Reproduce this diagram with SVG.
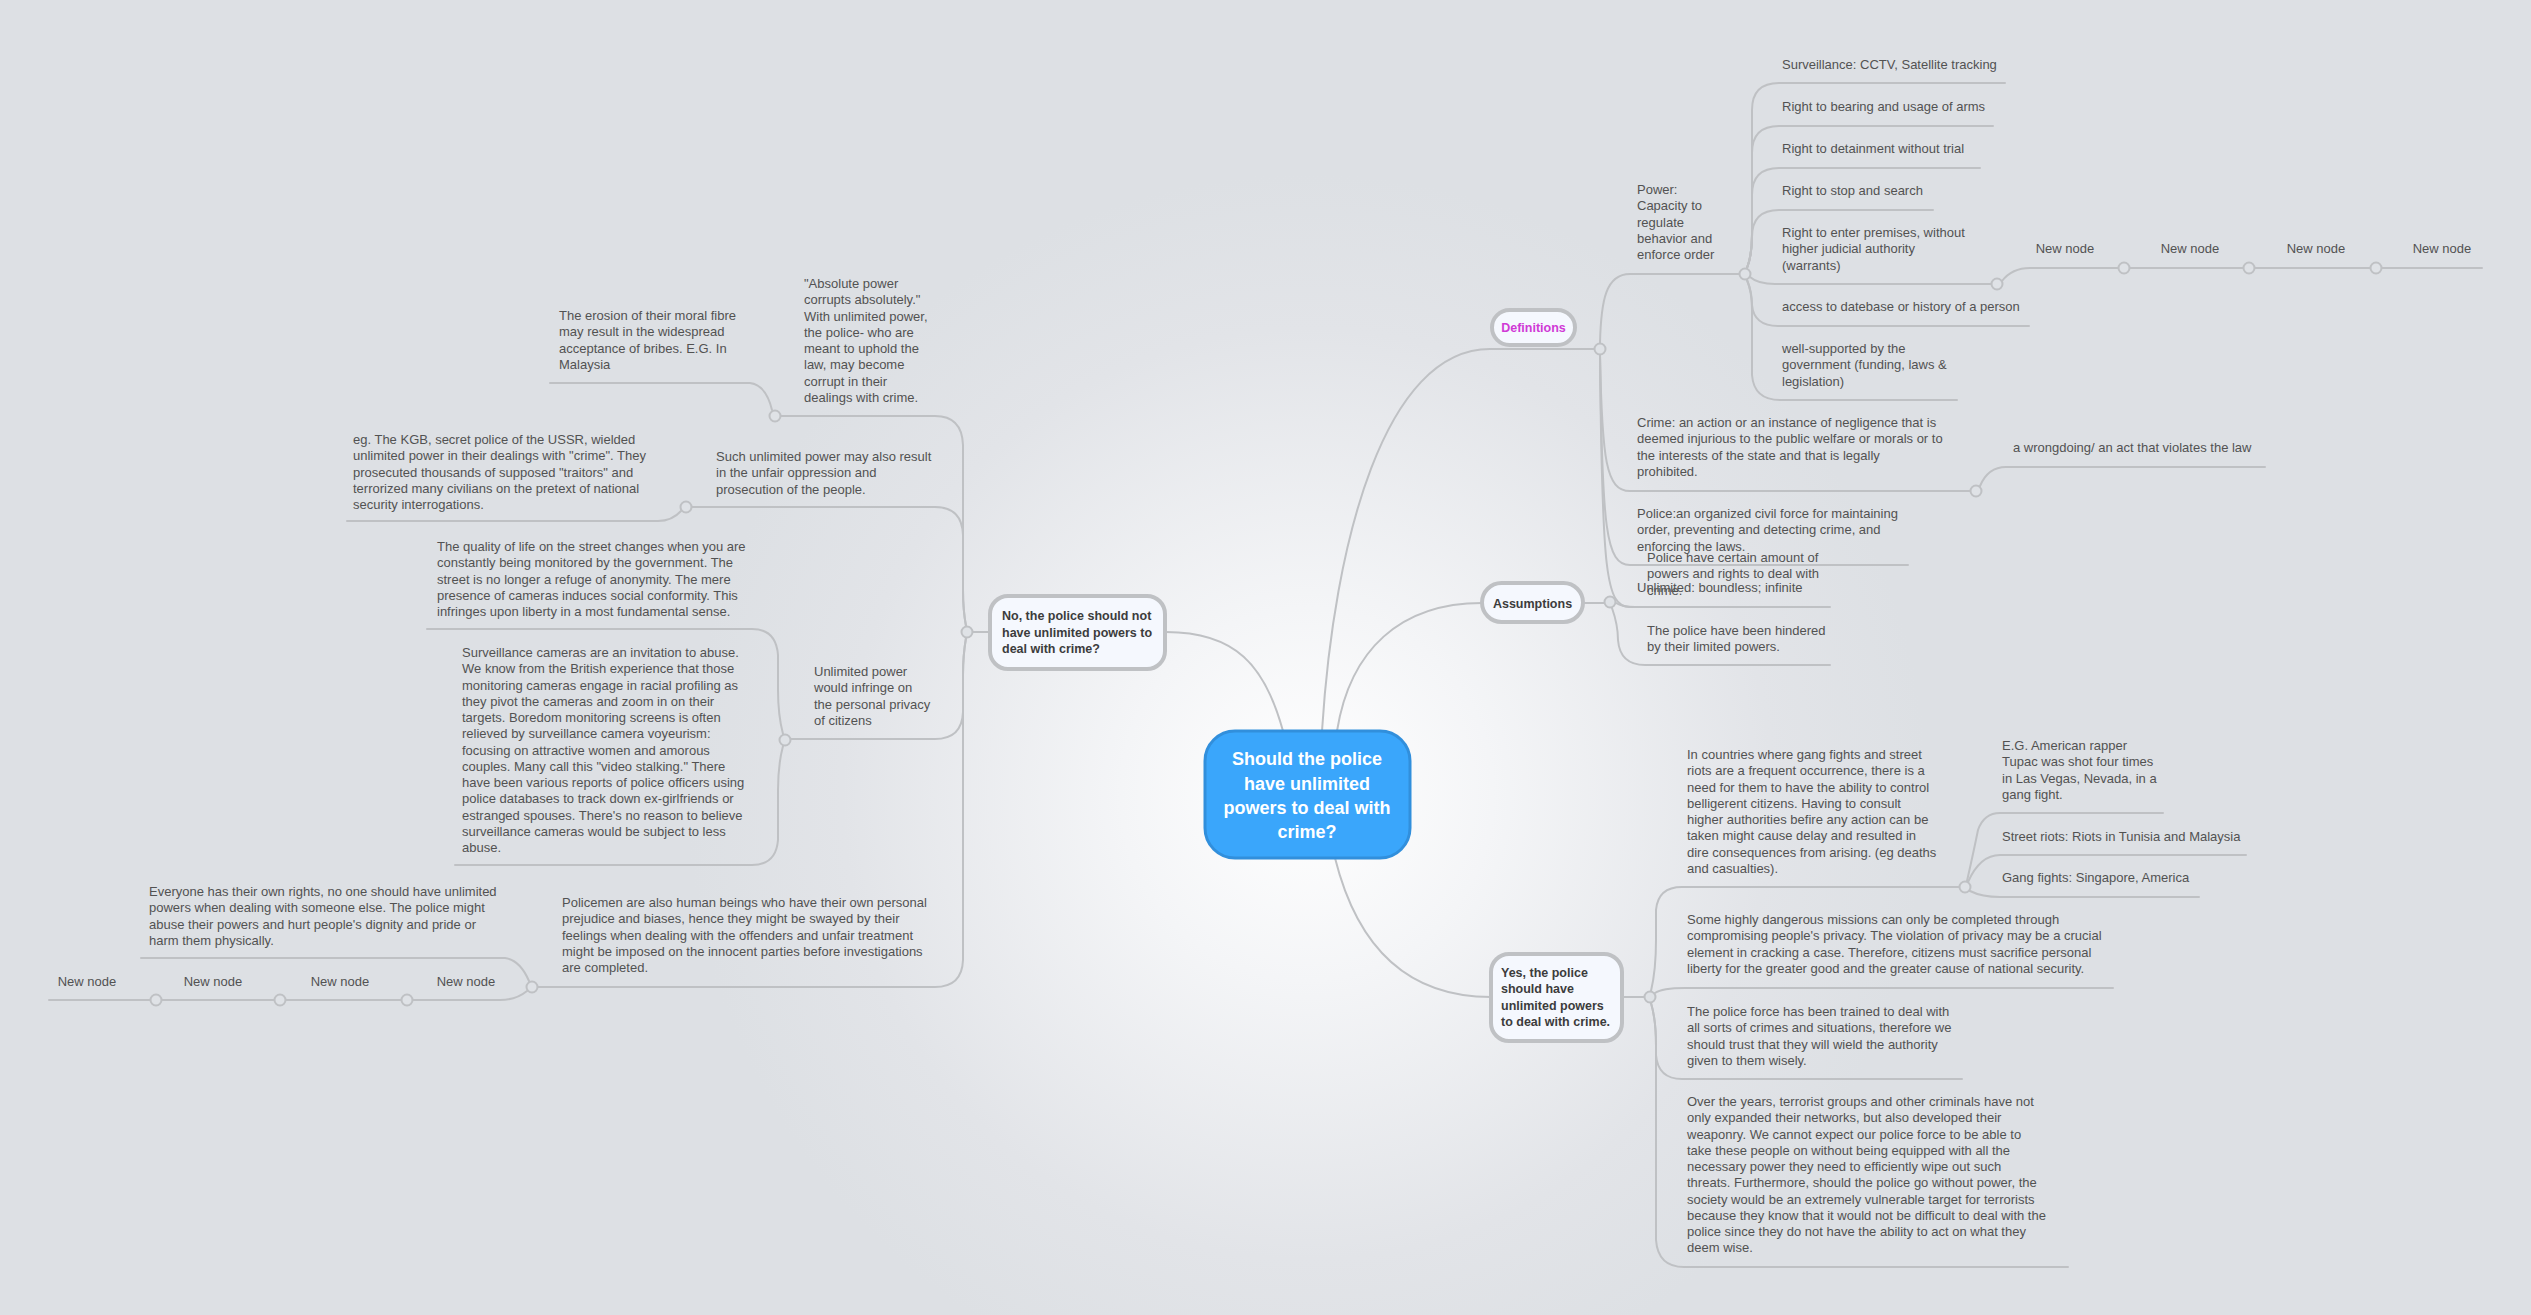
<svg xmlns="http://www.w3.org/2000/svg" width="2531" height="1315" viewBox="0 0 2531 1315">
<defs>
<radialGradient id="bg" gradientUnits="userSpaceOnUse" cx="1307" cy="794" r="620">
<stop offset="0" stop-color="#ffffff"/>
<stop offset="0.3" stop-color="#f4f5f7"/>
<stop offset="0.75" stop-color="#e2e4e8"/>
<stop offset="1" stop-color="#dde0e4"/>
</radialGradient>
<style>
.c{fill:none;stroke:#bfc1c4;stroke-width:2;stroke-linecap:round}
.dot{fill:#dfe2e6;stroke:#bfc1c4;stroke-width:2}
.box{fill:#f5f8fe;stroke:#bfc1c4;stroke-width:4}
.t{font-family:"Liberation Sans",Arial,sans-serif;font-size:13px;fill:#525252}
.b{font-family:"Liberation Sans",Arial,sans-serif;font-size:12.5px;font-weight:bold;fill:#3c3c3c}
.m{font-family:"Liberation Sans",Arial,sans-serif;font-size:18px;font-weight:bold;fill:#ffffff}
</style>
</defs>
<rect width="2531" height="1315" fill="url(#bg)"/>

<g id="connectors">
<path class="c" d="M1322,731 C1334,540 1385,349 1490,349 H1594"/>
<path class="c" d="M1337,731 C1350,650 1400,603 1482,603"/>
<path class="c" d="M1283,731 C1265,665 1235,632 1166,632"/>
<path class="c" d="M1335,858 C1358,950 1410,997 1491,997"/>
<path class="c" d="M1583,603 H1604"/>
<path class="c" d="M990,632 H973"/>
<path class="c" d="M1622,997 H1644"/>

<path class="c" d="M1600,343 C1601,300 1606,274 1630,274 H1739"/>
<path class="c" d="M1600,355 C1602,460 1606,491 1630,491 H1970"/>
<path class="c" d="M1600,355 C1602,530 1606,565 1630,565 H1908"/>
<path class="c" d="M1600,355 C1602,575 1606,607 1630,607 H1830"/>

<path class="c" d="M1747,268 Q1752,255 1752,235 V110 Q1752,83 1779,83 H2005"/>
<path class="c" d="M1747,268 Q1752,255 1752,235 V153 Q1752,126 1779,126 H1993"/>
<path class="c" d="M1747,268 Q1752,255 1752,235 V195 Q1752,168 1779,168 H1980"/>
<path class="c" d="M1747,268 Q1752,255 1752,237 Q1752,210 1779,210 H1933"/>
<path class="c" d="M1750,277 Q1758,284 1775,284 H1991"/>
<path class="c" d="M1747,280 Q1752,292 1752,305 Q1754,326 1778,326 H2029"/>
<path class="c" d="M1747,280 Q1752,292 1752,310 V375 Q1754,400 1780,400 H1957"/>

<path class="c" d="M2002,281 Q2012,268 2030,268 H2118"/>
<path class="c" d="M2130,268 H2243"/>
<path class="c" d="M2255,268 H2370"/>
<path class="c" d="M2382,268 H2482"/>

<path class="c" d="M1980,486 Q1988,467 2006,467 H2265"/>

<path class="c" d="M1616,603 Q1622,607 1635,607 H1815"/>
<path class="c" d="M1612,608 Q1618,625 1618,640 Q1620,665 1645,665 H1830"/>

<path class="c" d="M1651,991 Q1656,970 1656,940 V910 Q1658,887 1682,887 H1959"/>
<path class="c" d="M1655,993 Q1662,988 1685,988 H2113"/>
<path class="c" d="M1651,1003 Q1656,1020 1656,1045 V1055 Q1658,1079 1682,1079 H1962"/>
<path class="c" d="M1651,1003 Q1656,1020 1656,1045 V1240 Q1658,1267 1684,1267 H2068"/>

<path class="c" d="M1967,881 Q1974,850 1978,830 Q1984,813 2000,813 H2163"/>
<path class="c" d="M1968,882 Q1980,855 2000,855 H2246"/>
<path class="c" d="M1970,891 Q1982,897 2000,897 H2199"/>

<path class="c" d="M966,626 Q963,610 963,590 V445 Q962,416 935,416 H781"/>
<path class="c" d="M966,626 Q963,610 963,590 V535 Q962,507 935,507 H692"/>
<path class="c" d="M966,638 Q963,655 963,675 V712 Q962,739 935,739 H791"/>
<path class="c" d="M966,638 Q963,655 963,675 V960 Q962,987 935,987 H538"/>

<path class="c" d="M772,410 Q766,385 750,383 H550"/>
<path class="c" d="M681,511 Q672,521 658,521 H347"/>
<path class="c" d="M783,734 Q778,715 778,690 V655 Q776,629 752,629 H427"/>
<path class="c" d="M783,746 Q778,765 778,790 V840 Q776,865 752,865 H455"/>

<path class="c" d="M529,981 Q520,960 505,958 H141"/>
<path class="c" d="M527,991 Q516,1000 500,1000 H413"/>
<path class="c" d="M401,1000 H286"/>
<path class="c" d="M274,1000 H162"/>
<path class="c" d="M150,1000 H49"/>

<circle class="dot" cx="1600" cy="349" r="5.5"/>
<circle class="dot" cx="1610" cy="602" r="5.5"/>
<circle class="dot" cx="967" cy="632" r="5.5"/>
<circle class="dot" cx="1650" cy="997" r="5.5"/>
<circle class="dot" cx="1745" cy="274" r="5.5"/>
<circle class="dot" cx="1997" cy="284" r="5.5"/>
<circle class="dot" cx="2124" cy="268" r="5.5"/>
<circle class="dot" cx="2249" cy="268" r="5.5"/>
<circle class="dot" cx="2376" cy="268" r="5.5"/>
<circle class="dot" cx="1976" cy="491" r="5.5"/>
<circle class="dot" cx="1965" cy="887" r="5.5"/>
<circle class="dot" cx="775" cy="416" r="5.5"/>
<circle class="dot" cx="686" cy="507" r="5.5"/>
<circle class="dot" cx="785" cy="740" r="5.5"/>
<circle class="dot" cx="532" cy="987" r="5.5"/>
<circle class="dot" cx="407" cy="1000" r="5.5"/>
<circle class="dot" cx="280" cy="1000" r="5.5"/>
<circle class="dot" cx="156" cy="1000" r="5.5"/>
</g>

<g id="central">
<rect x="1205" y="731" width="205" height="127" rx="30" fill="#3aa6fb" stroke="#318fdc" stroke-width="3"/>
<text class="m" text-anchor="middle"><tspan x="1307" y="765">Should the police</tspan><tspan x="1307" y="790">have unlimited</tspan><tspan x="1307" y="814">powers to deal with</tspan><tspan x="1307" y="838">crime?</tspan></text>
</g>

<g id="definitions">
<rect class="box" x="1492" y="310" width="83" height="35" rx="17.5"/>
<text class="b" x="1533.5" y="332" text-anchor="middle" style="fill:#d03ad6">Definitions</text>
</g>
<g id="assumptions">
<rect class="box" x="1482" y="583" width="101" height="39" rx="19.5"/>
<text class="b" x="1532.5" y="607.5" text-anchor="middle">Assumptions</text>
</g>
<g id="no">
<rect class="box" x="990" y="596" width="175" height="73" rx="18"/>
<text class="b"><tspan x="1002" y="620">No, the police should not</tspan><tspan x="1002" y="637">have unlimited powers to</tspan><tspan x="1002" y="653">deal with crime?</tspan></text>
</g>
<g id="yes">
<rect class="box" x="1491" y="954" width="131" height="87" rx="18"/>
<text class="b"><tspan x="1501" y="977">Yes, the police</tspan><tspan x="1501" y="993">should have</tspan><tspan x="1501" y="1010">unlimited powers</tspan><tspan x="1501" y="1026">to deal with crime.</tspan></text>
</g>

<g id="power"><text class="t"><tspan x="1637" y="194">Power:</tspan><tspan x="1637" dy="16.25">Capacity to</tspan><tspan x="1637" dy="16.25">regulate</tspan><tspan x="1637" dy="16.25">behavior and</tspan><tspan x="1637" dy="16.25">enforce order</tspan></text></g>
<g id="surveillance"><text class="t" x="1782" y="69">Surveillance: CCTV, Satellite tracking</text></g>
<g id="arms"><text class="t" x="1782" y="111">Right to bearing and usage of arms</text></g>
<g id="detainment"><text class="t" x="1782" y="153">Right to detainment without trial</text></g>
<g id="stop"><text class="t" x="1782" y="195">Right to stop and search</text></g>
<g id="enter"><text class="t"><tspan x="1782" y="237">Right to enter premises, without</tspan><tspan x="1782" dy="16.25">higher judicial authority</tspan><tspan x="1782" dy="16.25">(warrants)</tspan></text></g>
<g id="database"><text class="t" x="1782" y="311">access to datebase or history of a person</text></g>
<g id="supported"><text class="t"><tspan x="1782" y="353">well-supported by the</tspan><tspan x="1782" dy="16.25">government (funding, laws &amp;</tspan><tspan x="1782" dy="16.25">legislation)</tspan></text></g>
<g id="nn-r1"><text class="t" x="2065" y="253" text-anchor="middle">New node</text></g>
<g id="nn-r2"><text class="t" x="2190" y="253" text-anchor="middle">New node</text></g>
<g id="nn-r3"><text class="t" x="2316" y="253" text-anchor="middle">New node</text></g>
<g id="nn-r4"><text class="t" x="2442" y="253" text-anchor="middle">New node</text></g>
<g id="crime"><text class="t"><tspan x="1637" y="427">Crime: an action or an instance of negligence that is</tspan><tspan x="1637" dy="16.25">deemed injurious to the public welfare or morals or to</tspan><tspan x="1637" dy="16.25">the interests of the state and that is legally</tspan><tspan x="1637" dy="16.25">prohibited.</tspan></text></g>
<g id="wrongdoing"><text class="t" x="2013" y="452">a wrongdoing/ an act that violates the law</text></g>
<g id="police-def"><text class="t"><tspan x="1637" y="518">Police:an organized civil force for maintaining</tspan><tspan x="1637" dy="16.25">order, preventing and detecting crime, and</tspan><tspan x="1637" dy="16.25">enforcing the laws.</tspan></text></g>
<g id="unlimited-def"><text class="t" x="1637" y="592">Unlimited: boundless; infinite</text></g>
<g id="assume1"><text class="t"><tspan x="1647" y="562">Police have certain amount of</tspan><tspan x="1647" dy="16.25">powers and rights to deal with</tspan><tspan x="1647" dy="16.25">crime.</tspan></text></g>
<g id="assume2"><text class="t"><tspan x="1647" y="635">The police have been hindered</tspan><tspan x="1647" dy="16.25">by their limited powers.</tspan></text></g>

<g id="yes1"><text class="t"><tspan x="1687" y="759">In countries where gang fights and street</tspan><tspan x="1687" dy="16.25">riots are a frequent occurrence, there is a</tspan><tspan x="1687" dy="16.25">need for them to have the ability to control</tspan><tspan x="1687" dy="16.25">belligerent citizens. Having to consult</tspan><tspan x="1687" dy="16.25">higher authorities befire any action can be</tspan><tspan x="1687" dy="16.25">taken might cause delay and resulted in</tspan><tspan x="1687" dy="16.25">dire consequences from arising. (eg deaths</tspan><tspan x="1687" dy="16.25">and casualties).</tspan></text></g>
<g id="tupac"><text class="t"><tspan x="2002" y="750">E.G. American rapper</tspan><tspan x="2002" dy="16.25">Tupac was shot four times</tspan><tspan x="2002" dy="16.25">in Las Vegas, Nevada, in a</tspan><tspan x="2002" dy="16.25">gang fight.</tspan></text></g>
<g id="riots"><text class="t" x="2002" y="841">Street riots: Riots in Tunisia and Malaysia</text></g>
<g id="gangs"><text class="t" x="2002" y="882">Gang fights: Singapore, America</text></g>
<g id="yes2"><text class="t"><tspan x="1687" y="924">Some highly dangerous missions can only be completed through</tspan><tspan x="1687" dy="16.25">compromising people's privacy. The violation of privacy may be a crucial</tspan><tspan x="1687" dy="16.25">element in cracking a case. Therefore, citizens must sacrifice personal</tspan><tspan x="1687" dy="16.25">liberty for the greater good and the greater cause of national security.</tspan></text></g>
<g id="yes3"><text class="t"><tspan x="1687" y="1016">The police force has been trained to deal with</tspan><tspan x="1687" dy="16.25">all sorts of crimes and situations, therefore we</tspan><tspan x="1687" dy="16.25">should trust that they will wield the authority</tspan><tspan x="1687" dy="16.25">given to them wisely.</tspan></text></g>
<g id="yes4"><text class="t"><tspan x="1687" y="1106">Over the years, terrorist groups and other criminals have not</tspan><tspan x="1687" dy="16.25">only expanded their networks, but also developed their</tspan><tspan x="1687" dy="16.25">weaponry. We cannot expect our police force to be able to</tspan><tspan x="1687" dy="16.25">take these people on without being equipped with all the</tspan><tspan x="1687" dy="16.25">necessary power they need to efficiently wipe out such</tspan><tspan x="1687" dy="16.25">threats. Furthermore, should the police go without power, the</tspan><tspan x="1687" dy="16.25">society would be an extremely vulnerable target for terrorists</tspan><tspan x="1687" dy="16.25">because they know that it would not be difficult to deal with the</tspan><tspan x="1687" dy="16.25">police since they do not have the ability to act on what they</tspan><tspan x="1687" dy="16.25">deem wise.</tspan></text></g>

<g id="no1"><text class="t"><tspan x="804" y="288">"Absolute power</tspan><tspan x="804" dy="16.25">corrupts absolutely."</tspan><tspan x="804" dy="16.25">With unlimited power,</tspan><tspan x="804" dy="16.25">the police- who are</tspan><tspan x="804" dy="16.25">meant to uphold the</tspan><tspan x="804" dy="16.25">law, may become</tspan><tspan x="804" dy="16.25">corrupt in their</tspan><tspan x="804" dy="16.25">dealings with crime.</tspan></text></g>
<g id="erosion"><text class="t"><tspan x="559" y="320">The erosion of their moral fibre</tspan><tspan x="559" dy="16.25">may result in the widespread</tspan><tspan x="559" dy="16.25">acceptance of bribes. E.G. In</tspan><tspan x="559" dy="16.25">Malaysia</tspan></text></g>
<g id="no2"><text class="t"><tspan x="716" y="461">Such unlimited power may also result</tspan><tspan x="716" dy="16.25">in the unfair oppression and</tspan><tspan x="716" dy="16.25">prosecution of the people.</tspan></text></g>
<g id="kgb"><text class="t"><tspan x="353" y="444">eg. The KGB, secret police of the USSR, wielded</tspan><tspan x="353" dy="16.25">unlimited power in their dealings with "crime". They</tspan><tspan x="353" dy="16.25">prosecuted thousands of supposed "traitors" and</tspan><tspan x="353" dy="16.25">terrorized many civilians on the pretext of national</tspan><tspan x="353" dy="16.25">security interrogations.</tspan></text></g>
<g id="quality"><text class="t"><tspan x="437" y="551">The quality of life on the street changes when you are</tspan><tspan x="437" dy="16.25">constantly being monitored by the government. The</tspan><tspan x="437" dy="16.25">street is no longer a refuge of anonymity. The mere</tspan><tspan x="437" dy="16.25">presence of cameras induces social conformity. This</tspan><tspan x="437" dy="16.25">infringes upon liberty in a most fundamental sense.</tspan></text></g>
<g id="cameras"><text class="t"><tspan x="462" y="657">Surveillance cameras are an invitation to abuse.</tspan><tspan x="462" dy="16.25">We know from the British experience that those</tspan><tspan x="462" dy="16.25">monitoring cameras engage in racial profiling as</tspan><tspan x="462" dy="16.25">they pivot the cameras and zoom in on their</tspan><tspan x="462" dy="16.25">targets. Boredom monitoring screens is often</tspan><tspan x="462" dy="16.25">relieved by surveillance camera voyeurism:</tspan><tspan x="462" dy="16.25">focusing on attractive women and amorous</tspan><tspan x="462" dy="16.25">couples. Many call this "video stalking." There</tspan><tspan x="462" dy="16.25">have been various reports of police officers using</tspan><tspan x="462" dy="16.25">police databases to track down ex-girlfriends or</tspan><tspan x="462" dy="16.25">estranged spouses. There's no reason to believe</tspan><tspan x="462" dy="16.25">surveillance cameras would be subject to less</tspan><tspan x="462" dy="16.25">abuse.</tspan></text></g>
<g id="no3"><text class="t"><tspan x="814" y="676">Unlimited power</tspan><tspan x="814" dy="16.25">would infringe on</tspan><tspan x="814" dy="16.25">the personal privacy</tspan><tspan x="814" dy="16.25">of citizens</tspan></text></g>
<g id="no4"><text class="t"><tspan x="562" y="907">Policemen are also human beings who have their own personal</tspan><tspan x="562" dy="16.25">prejudice and biases, hence they might be swayed by their</tspan><tspan x="562" dy="16.25">feelings when dealing with the offenders and unfair treatment</tspan><tspan x="562" dy="16.25">might be imposed on the innocent parties before investigations</tspan><tspan x="562" dy="16.25">are completed.</tspan></text></g>
<g id="everyone"><text class="t"><tspan x="149" y="896">Everyone has their own rights, no one should have unlimited</tspan><tspan x="149" dy="16.25">powers when dealing with someone else. The police might</tspan><tspan x="149" dy="16.25">abuse their powers and hurt people's dignity and pride or</tspan><tspan x="149" dy="16.25">harm them physically.</tspan></text></g>
<g id="nn-l1"><text class="t" x="466" y="986" text-anchor="middle">New node</text></g>
<g id="nn-l2"><text class="t" x="340" y="986" text-anchor="middle">New node</text></g>
<g id="nn-l3"><text class="t" x="213" y="986" text-anchor="middle">New node</text></g>
<g id="nn-l4"><text class="t" x="87" y="986" text-anchor="middle">New node</text></g>
</svg>
